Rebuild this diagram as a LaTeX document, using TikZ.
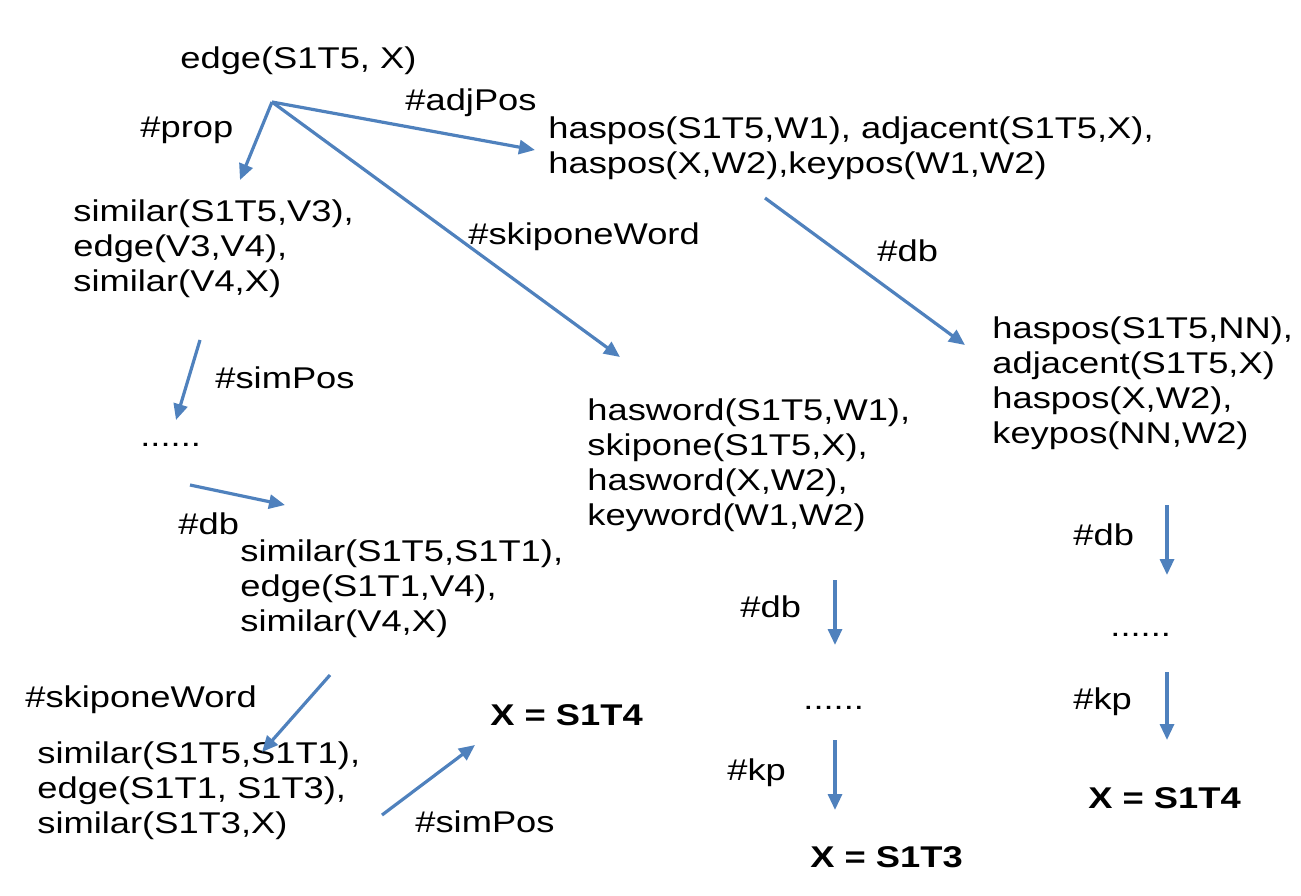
\documentclass[tikz,border=0pt]{standalone}
\usepackage{fontspec}
\setmainfont{Liberation Sans}
\usetikzlibrary{arrows.meta}
\newcommand\sxt[1]{\scalebox{1.21}[1]{\begin{tabular}{@{}l@{}}#1\end{tabular}}}
\newcommand\sxl[1]{\scalebox{1.21}[1]{#1}}
\begin{document}
\begin{tikzpicture}[x=0.5pt,y=-0.5pt,
 t/.style={anchor=north west,inner sep=0pt,font=\fontsize{15}{17.5}\selectfont},
 lb/.style={anchor=west,inner sep=0pt,font=\fontsize{15}{16}\selectfont},
 res/.style={anchor=west,inner sep=0pt,font=\bfseries\fontsize{15}{16}\selectfont},
 ar/.style={draw={rgb,255:red,79;green,129;blue,189},line width=1.6pt,-{Triangle[length=8pt,width=7pt]}}]
\useasboundingbox (0,0) rectangle (1301,895);
\node[t] (a) at (180,44) {\sxt{edge(S1T5, X)}};
\node[t] (b) at (548,114) {\sxt{haspos(S1T5,W1), adjacent(S1T5,X),\\haspos(X,W2),keypos(W1,W2)}};
\node[t] (c) at (73,197) {\sxt{similar(S1T5,V3),\\edge(V3,V4),\\similar(V4,X)}};
\node[lb] (d) at (140,445) {\sxl{......}};
\node[t] (e) at (240,537) {\sxt{similar(S1T5,S1T1),\\edge(S1T1,V4),\\similar(V4,X)}};
\node[t] (f) at (37,739) {\sxt{similar(S1T5,S1T1),\\edge(S1T1, S1T3),\\similar(S1T3,X)}};
\node[res] (g) at (490,715) {\sxl{X = S1T4}};
\node[t] (h) at (587,396) {\sxt{hasword(S1T5,W1),\\skipone(S1T5,X),\\hasword(X,W2),\\keyword(W1,W2)}};
\node[t] (i) at (992,314) {\sxt{haspos(S1T5,NN),\\adjacent(S1T5,X)\\haspos(X,W2),\\keypos(NN,W2)}};
\node[lb] (j) at (803,708) {\sxl{......}};
\node[res] (k) at (810,857) {\sxl{X = S1T3}};
\node[lb] (l) at (1110,635) {\sxl{......}};
\node[res] (m) at (1088,798) {\sxl{X = S1T4}};
\foreach \n/\x/\y/\s in {l1/140/130/\#prop, l2/405/103/\#adjPos, l3/468/237/\#skiponeWord, l4/877/251/\#db, l5/215/378/\#simPos, l6/178/524/\#db, l7/25/700/\#skiponeWord, l8/415/822/\#simPos, l9/740/607/\#db, l10/727/773/\#kp, l11/1073/535/\#db, l12/1073/702/\#kp}
  \node[lb] (\n) at (\x,\y) {\sxl{\s}};
\coordinate (o) at (272,102);
\coordinate (p1) at (240,180); \coordinate (p2) at (535,150); \coordinate (p3) at (620,357);
\coordinate (q1) at (765,198); \coordinate (q2) at (965,345);
\coordinate (r1) at (200,340); \coordinate (r2) at (176,420);
\coordinate (s1) at (190,485); \coordinate (s2) at (285,505);
\coordinate (u1) at (330,675); \coordinate (u2) at (262,752);
\coordinate (v1) at (382,815); \coordinate (v2) at (475,745);
\coordinate (w1) at (835,580); \coordinate (w2) at (835,645);
\coordinate (w3) at (835,740); \coordinate (w4) at (835,810);
\coordinate (z1) at (1167,505); \coordinate (z2) at (1167,575);
\coordinate (z3) at (1167,672); \coordinate (z4) at (1167,740);
\foreach \a/\b in {o/p1,o/p2,o/p3,q1/q2,r1/r2,s1/s2,u1/u2,v1/v2,w1/w2,w3/w4,z1/z2,z3/z4}
  \draw[ar] (\a) -- (\b);
\end{tikzpicture}
\end{document}
